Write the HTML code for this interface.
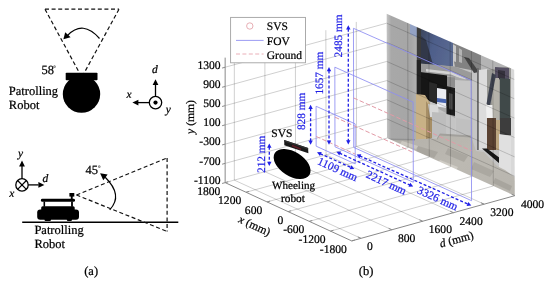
<!DOCTYPE html>
<html><head><meta charset="utf-8"><style>
html,body{margin:0;padding:0;background:#fff;width:550px;height:282px;overflow:hidden}
svg{display:block}
text{stroke:#000;stroke-width:.22px;text-rendering:geometricPrecision}
text.b{stroke:#1f1fe6}
text.g{stroke:none}
</style></head><body>
<svg width="550" height="282" viewBox="0 0 550 282">
<rect width="550" height="282" fill="#fff"/>
<g stroke="#111" stroke-width="1.2" fill="none" stroke-dasharray="4,2.6">
<line x1="45" y1="9.2" x2="119" y2="9.2" />
<line x1="45" y1="9.2" x2="81.8" y2="77.3" />
<line x1="119" y1="9.2" x2="81.8" y2="77.3" />
</g>
<path d="M99.5,38.5 Q83,19.5 67.5,35.5" stroke="#000" stroke-width="1.2" fill="none"/>
<polygon points="63.4,39.2 65.2,32.3 70.6,37.3" fill="#000"/>
<circle cx="81.5" cy="94.1" r="18.7" fill="#000"/>
<rect x="65.7" y="72.8" width="31.8" height="7.4" rx="0.8" fill="#000"/>
<text x="41.5" y="74.4" font-size="12.5" font-family="Liberation Serif, serif">58</text>
<text x="53.2" y="70.2" class="g" font-size="6.5" font-family="Liberation Serif, serif" fill="#8a8a8a" style="stroke:#8a8a8a;stroke-width:.6px">°</text>
<text x="8.8" y="94.8" font-size="12.5" font-family="Liberation Serif, serif">Patrolling</text>
<text x="8.8" y="109.2" font-size="12.5" font-family="Liberation Serif, serif">Robot</text>
<circle cx="155.5" cy="102.6" r="6.2" stroke="#000" stroke-width="1.3" fill="#fff"/>
<circle cx="155.5" cy="102.6" r="2.1" fill="#000"/>
<line x1="155.5" y1="96.4" x2="155.5" y2="84" stroke="#000" stroke-width="1.3"/>
<polygon points="155.5,79.2 152.6,85 158.4,85" fill="#000"/>
<line x1="149.3" y1="102.6" x2="138" y2="102.6" stroke="#000" stroke-width="1.3"/>
<polygon points="132.4,102.6 138.4,99.7 138.4,105.5" fill="#000"/>
<text x="152" y="73.2" font-size="11.5" font-family="Liberation Serif, serif" font-style="italic">d</text>
<text x="126.6" y="97.8" font-size="11.5" font-family="Liberation Serif, serif" font-style="italic">x</text>
<text x="165.8" y="113.4" font-size="11.5" font-family="Liberation Serif, serif" font-style="italic">y</text>
<circle cx="22" cy="184.9" r="6.2" stroke="#000" stroke-width="1.3" fill="#fff"/>
<line x1="17.6" y1="180.5" x2="26.4" y2="189.3" stroke="#000" stroke-width="1.2"/>
<line x1="17.6" y1="189.3" x2="26.4" y2="180.5" stroke="#000" stroke-width="1.2"/>
<line x1="22" y1="178.7" x2="22" y2="166" stroke="#000" stroke-width="1.3"/>
<polygon points="22,160.6 19.1,166.4 24.9,166.4" fill="#000"/>
<line x1="28.2" y1="184.9" x2="38.5" y2="184.9" stroke="#000" stroke-width="1.3"/>
<polygon points="44.4,184.9 38.4,182 38.4,187.8" fill="#000"/>
<text x="18" y="156.8" font-size="11.5" font-family="Liberation Serif, serif" font-style="italic">y</text>
<text x="42.6" y="181.8" font-size="11.5" font-family="Liberation Serif, serif" font-style="italic">d</text>
<text x="9.2" y="196.8" font-size="11.5" font-family="Liberation Serif, serif" font-style="italic">x</text>
<rect x="69.4" y="193" width="4.9" height="3.6" fill="#000"/>
<rect x="70.8" y="196" width="1.9" height="3.2" fill="#000"/>
<rect x="40.9" y="198.8" width="34.1" height="3" rx="1.4" fill="#000"/>
<rect x="43.5" y="201.5" width="1.6" height="5.2" fill="#000"/>
<rect x="71.1" y="201.5" width="1.8" height="5.2" fill="#000"/>
<rect x="41.2" y="206.3" width="33.5" height="5" rx="1.5" fill="#000"/>
<rect x="37.2" y="209.4" width="41.8" height="10.3" rx="3" fill="#000"/>
<rect x="44.5" y="218" width="6.5" height="3" rx="1.2" fill="#000"/>
<rect x="66.8" y="218" width="5.2" height="3" rx="1.2" fill="#000"/>
<line x1="22.2" y1="222.2" x2="178.3" y2="222.2" stroke="#000" stroke-width="1.5"/>
<g stroke="#111" stroke-width="1.2" fill="none" stroke-dasharray="4,2.6">
<line x1="76.5" y1="195" x2="167.1" y2="158" />
<line x1="76.5" y1="195" x2="167.1" y2="231.4" />
<line x1="167.1" y1="158" x2="167.1" y2="231.4" />
</g>
<path d="M109.7,209.8 Q123.5,195.5 105.2,177.3" stroke="#000" stroke-width="1.2" fill="none"/>
<polygon points="100.1,173.3 107.6,174.6 103.3,180.2" fill="#000"/>
<text x="85.6" y="174.2" font-size="12.5" font-family="Liberation Serif, serif">45</text>
<text x="97.9" y="169.9" class="g" font-size="6.5" font-family="Liberation Serif, serif" fill="#8a8a8a" style="stroke:#8a8a8a;stroke-width:.6px">°</text>
<text x="34.4" y="233.6" font-size="12.5" font-family="Liberation Serif, serif">Patrolling</text>
<text x="34.4" y="248" font-size="12.5" font-family="Liberation Serif, serif">Robot</text>
<text x="84.2" y="275.2" font-size="12.5" font-family="Liberation Serif, serif">(a)</text>
<line x1="234.34" y1="180.11" x2="234.33" y2="55.14" stroke="#000" stroke-opacity="0.19" stroke-width="1"/>
<line x1="264.96" y1="171.68" x2="264.88" y2="46.82" stroke="#000" stroke-opacity="0.19" stroke-width="1"/>
<line x1="295.53" y1="163.26" x2="295.39" y2="38.51" stroke="#000" stroke-opacity="0.19" stroke-width="1"/>
<line x1="326.06" y1="154.86" x2="325.85" y2="30.21" stroke="#000" stroke-opacity="0.19" stroke-width="1"/>
<line x1="356.54" y1="146.47" x2="356.28" y2="21.92" stroke="#000" stroke-opacity="0.19" stroke-width="1"/>
<line x1="225.15" y1="163.37" x2="386.93" y2="118.91" stroke="#000" stroke-opacity="0.19" stroke-width="1"/>
<line x1="225.15" y1="144.12" x2="386.88" y2="99.75" stroke="#000" stroke-opacity="0.19" stroke-width="1"/>
<line x1="225.15" y1="124.88" x2="386.83" y2="80.59" stroke="#000" stroke-opacity="0.19" stroke-width="1"/>
<line x1="225.15" y1="105.65" x2="386.78" y2="61.45" stroke="#000" stroke-opacity="0.19" stroke-width="1"/>
<line x1="225.15" y1="86.44" x2="386.73" y2="42.32" stroke="#000" stroke-opacity="0.19" stroke-width="1"/>
<line x1="225.15" y1="67.23" x2="386.68" y2="23.2" stroke="#000" stroke-opacity="0.19" stroke-width="1"/>
<line x1="225.15" y1="182.64" x2="386.98" y2="138.09" stroke="#000" stroke-opacity="0.19" stroke-width="1"/>
<line x1="246.06" y1="192.26" x2="408.09" y2="147.6" stroke="#000" stroke-opacity="0.19" stroke-width="1"/>
<line x1="267.04" y1="201.93" x2="429.29" y2="157.15" stroke="#000" stroke-opacity="0.19" stroke-width="1"/>
<line x1="288.1" y1="211.62" x2="450.56" y2="166.72" stroke="#000" stroke-opacity="0.19" stroke-width="1"/>
<line x1="309.23" y1="221.36" x2="471.9" y2="176.34" stroke="#000" stroke-opacity="0.19" stroke-width="1"/>
<line x1="330.44" y1="231.12" x2="493.32" y2="185.99" stroke="#000" stroke-opacity="0.19" stroke-width="1"/>
<line x1="234.34" y1="180.11" x2="360.99" y2="238.35" stroke="#000" stroke-opacity="0.19" stroke-width="1"/>
<line x1="264.96" y1="171.68" x2="391.85" y2="229.79" stroke="#000" stroke-opacity="0.19" stroke-width="1"/>
<line x1="295.53" y1="163.26" x2="422.66" y2="221.24" stroke="#000" stroke-opacity="0.19" stroke-width="1"/>
<line x1="326.06" y1="154.86" x2="453.42" y2="212.71" stroke="#000" stroke-opacity="0.19" stroke-width="1"/>
<line x1="356.54" y1="146.47" x2="484.15" y2="204.18" stroke="#000" stroke-opacity="0.19" stroke-width="1"/>
<defs><clipPath id="ph"><polygon points="386.6,13.7 514.2,69.8 514.8,195.7 387.0,138.1"/></clipPath>
<filter id="bl" x="-5%" y="-5%" width="110%" height="110%"><feGaussianBlur stdDeviation="0.55"/></filter>
<linearGradient id="win" x1="0" y1="0" x2="1" y2="0.4">
<stop offset="0" stop-color="#3a4458"/><stop offset="0.5" stop-color="#4e5e8a"/><stop offset="1" stop-color="#586890"/></linearGradient>
<linearGradient id="pil" x1="0" y1="0" x2="1" y2="0">
<stop offset="0" stop-color="#e6e6e6"/><stop offset="0.09" stop-color="#bebebe"/><stop offset="0.2" stop-color="#a8a8a8"/><stop offset="0.8" stop-color="#a6a6a6"/><stop offset="1" stop-color="#b2b2b2"/></linearGradient>
<linearGradient id="flr" x1="0" y1="0" x2="1" y2="1">
<stop offset="0" stop-color="#b3b0a9"/><stop offset="0.5" stop-color="#bcb9b2"/><stop offset="1" stop-color="#b8b5ae"/></linearGradient>
</defs>
<g clip-path="url(#ph)"><g filter="url(#bl)">
<polygon points="384.6,11.7 516.2,67.8 516.8,197.7 385.0,140.1" fill="#c4c4c4" />
<polygon points="450.0,39.5 481.0,53.1 481.0,72.0 455.0,67.0" fill="#828282" />
<polygon points="481.0,53.1 516.2,67.8 515.0,78.0 481.0,72.0" fill="#b4b4b4" />
<polygon points="452.5,44.0 456.0,46.0 456.0,62.0 452.5,61.0" fill="#c8c8c8" />
<polygon points="459.0,48.0 462.0,50.0 462.0,63.0 459.0,62.0" fill="#b4b4b4" />
<polygon points="464.0,57.0 469.0,58.0 479.0,72.0 474.0,73.0" fill="#454545" />
<polygon points="420.0,26.3 453.0,40.8 453.0,66.5 440.0,65.5 420.0,64.0" fill="url(#win)" />
<polygon points="421.0,36.0 426.0,40.0 433.0,64.5 421.0,64.0" fill="#30384a" />
<polygon points="420.0,63.5 455.0,66.5 472.0,73.0 472.0,81.0 455.0,77.0 420.0,73.0" fill="#9a9a9a" />
<polygon points="426.0,69.0 452.0,72.0 466.0,78.5 465.0,80.5 451.0,74.5 426.0,71.5" fill="#d4d4d4" />
<polygon points="437.0,76.0 456.0,77.0 472.0,81.0 472.0,120.0 455.0,118.0 437.0,108.0" fill="#a9a9a9" />
<polygon points="437.0,76.0 455.0,77.5 455.0,87.0 437.0,86.0" fill="#8e8e8e" />
<polygon points="420.0,72.0 447.0,75.5 447.0,106.0 437.0,104.0 420.0,97.0" fill="#121212" />
<polygon points="429.0,82.0 437.0,84.0 437.0,104.0 429.0,101.0" fill="#2c2c2c" />
<polygon points="437.0,88.0 446.5,89.5 446.5,108.0 437.0,106.5" fill="#eaecf2" />
<polygon points="437.0,98.0 446.5,99.3 446.5,103.3 437.0,102.0" fill="#4a66b0" />
<polygon points="446.5,86.0 455.0,88.0 455.0,116.0 446.5,114.0" fill="#1e1e1e" />
<polygon points="449.0,93.0 452.5,94.0 452.5,110.0 449.0,109.0" fill="#4a4a4a" />
<polygon points="455.0,80.0 472.0,81.0 477.0,73.0 487.0,74.0 487.0,150.0 471.0,137.0 455.0,134.0" fill="#c6c6c6" />
<polygon points="456.0,118.0 471.0,120.0 471.0,136.0 456.0,134.0" fill="#c0c0c0" />
<polygon points="478.6,70.0 487.0,69.0 487.0,150.0 478.6,150.0" fill="#dcdcdc" />
<polygon points="477.0,68.0 478.8,68.0 478.8,150.0 477.0,150.0" fill="#6a6a6a" />
<polygon points="487.0,70.0 512.0,66.0 512.0,150.0 487.0,150.0" fill="#9a9a96" />
<polygon points="495.0,67.0 509.0,68.0 509.0,80.0 495.0,79.0" fill="#545062" />
<polygon points="498.0,70.0 505.0,71.0 505.0,80.0 498.0,79.0" fill="#34303c" />
<polygon points="500.0,78.0 510.0,79.0 510.0,132.0 500.0,131.0" fill="#3f4a4a" />
<polygon points="492.0,78.0 499.0,78.0 499.0,120.0 492.0,120.0" fill="#b4b2aa" />
<polygon points="492.0,73.0 496.0,75.0 490.0,106.0 486.5,104.0" fill="#3e4350" />
<polygon points="486.0,105.0 492.5,105.0 493.0,118.0 486.5,118.0" fill="#f0f0f0" />
<polygon points="487.0,118.0 496.0,118.0 496.0,150.0 487.0,150.0" fill="#5a4232" />
<polygon points="496.0,120.0 500.0,120.0 500.0,150.0 496.0,150.0" fill="#bca680" />
<polygon points="500.0,118.0 512.0,118.0 512.0,135.0 500.0,135.0" fill="#3e3e3e" />
<polygon points="482.0,148.5 487.0,148.5 500.5,158.5 499.5,163.5" fill="#141414" />
<polygon points="499.0,134.0 512.0,136.0 512.0,182.0 499.0,176.0" fill="#e0e0e0" />
<polygon points="511.0,66.0 516.0,66.0 516.0,190.0 511.0,188.0" fill="#d8d8d8" />
<polygon points="384.6,11.7 417.3,25.1 417.3,141.0 384.6,138.5" fill="url(#pil)" />
<polygon points="410.0,22.9 417.3,26.1 417.3,38.0 410.0,34.0" fill="#93a2c4" />
<polygon points="416.8,24.9 421.0,26.8 421.0,96.0 416.8,95.0" fill="#3a3a3a" />
<polygon points="416.8,60.0 421.0,60.0 421.0,96.0 416.8,95.0" fill="#222222" />
<polygon points="416.0,94.0 425.0,95.0 430.0,103.0 432.0,112.0 432.0,138.0 416.0,140.0" fill="#c8b186" />
<polygon points="426.0,101.0 432.0,110.0 432.0,138.0 426.0,139.0" fill="#a68e66" />
<polygon points="428.0,104.0 438.0,105.5 439.0,118.0 430.0,117.0" fill="#d8d8d8" />
<polygon points="432.0,112.0 446.0,113.0 446.0,134.0 432.0,138.0" fill="#bdbdbd" />
<polygon points="385.0,139.0 415.0,139.5 437.0,138.5 440.0,134.0 471.0,136.0 476.0,151.0 484.0,152.0 497.0,166.0 505.0,170.0 516.0,178.0 516.0,200.0 385.0,200.0" fill="url(#flr)" />
<polygon points="387.0,138.5 415.0,139.0 415.0,140.5 387.0,140.0" fill="#929292" />
<polygon points="437.0,138.0 440.0,133.5 471.0,135.5 471.0,137.5 440.0,135.5 437.0,140.0" fill="#a2a09c" />
<polygon points="418.0,146.0 438.0,152.0 434.0,158.0 416.0,152.0" fill="#a9a69f" />
<polygon points="448.0,148.0 468.0,156.0 464.0,162.0 445.0,154.0" fill="#aaa7a0" />
<polygon points="474.0,162.0 494.0,171.0 490.0,177.0 471.0,169.0" fill="#aba8a1" />
<polygon points="440.0,160.0 458.0,167.0 455.0,172.0 437.0,165.0" fill="#cfccc5" />
<polygon points="495.0,178.0 512.0,186.0 510.0,191.0 493.0,183.0" fill="#a8a59e" />
<polygon points="402.0,141.0 418.0,146.0 416.0,149.0 400.0,144.0" fill="#cbc8c1" />
</g></g>
<line x1="408.09" y1="147.6" x2="407.73" y2="22.92" stroke="#000" stroke-opacity="0.22" stroke-width="0.8"/>
<line x1="429.29" y1="157.15" x2="428.88" y2="32.22" stroke="#000" stroke-opacity="0.22" stroke-width="0.8"/>
<line x1="450.56" y1="166.72" x2="450.1" y2="41.56" stroke="#000" stroke-opacity="0.22" stroke-width="0.8"/>
<line x1="471.9" y1="176.34" x2="471.41" y2="50.93" stroke="#000" stroke-opacity="0.22" stroke-width="0.8"/>
<line x1="493.32" y1="185.99" x2="492.78" y2="60.33" stroke="#000" stroke-opacity="0.22" stroke-width="0.8"/>
<line x1="386.93" y1="118.91" x2="514.73" y2="176.27" stroke="#000" stroke-opacity="0.22" stroke-width="0.8"/>
<line x1="386.88" y1="99.75" x2="514.64" y2="156.88" stroke="#000" stroke-opacity="0.22" stroke-width="0.8"/>
<line x1="386.83" y1="80.59" x2="514.55" y2="137.5" stroke="#000" stroke-opacity="0.22" stroke-width="0.8"/>
<line x1="386.78" y1="61.45" x2="514.46" y2="118.13" stroke="#000" stroke-opacity="0.22" stroke-width="0.8"/>
<line x1="386.73" y1="42.32" x2="514.37" y2="98.78" stroke="#000" stroke-opacity="0.22" stroke-width="0.8"/>
<line x1="386.68" y1="23.2" x2="514.29" y2="79.43" stroke="#000" stroke-opacity="0.22" stroke-width="0.8"/>
<line x1="225.15" y1="182.64" x2="225.15" y2="57.64" stroke="#8a8a8a" stroke-width="1"/>
<line x1="225.15" y1="182.64" x2="351.73" y2="240.92" stroke="#8a8a8a" stroke-width="1"/>
<line x1="351.73" y1="240.92" x2="514.82" y2="195.67" stroke="#8a8a8a" stroke-width="1"/>
<line x1="225.15" y1="182.64" x2="222.09" y2="183.48" stroke="#8a8a8a" stroke-width="1"/>
<line x1="225.15" y1="163.37" x2="222.09" y2="164.22" stroke="#8a8a8a" stroke-width="1"/>
<line x1="225.15" y1="144.12" x2="222.09" y2="144.96" stroke="#8a8a8a" stroke-width="1"/>
<line x1="225.15" y1="124.88" x2="222.09" y2="125.72" stroke="#8a8a8a" stroke-width="1"/>
<line x1="225.15" y1="105.65" x2="222.09" y2="106.49" stroke="#8a8a8a" stroke-width="1"/>
<line x1="225.15" y1="86.44" x2="222.09" y2="87.27" stroke="#8a8a8a" stroke-width="1"/>
<line x1="225.15" y1="67.23" x2="222.09" y2="68.07" stroke="#8a8a8a" stroke-width="1"/>
<line x1="225.15" y1="182.64" x2="228.22" y2="181.79" stroke="#8a8a8a" stroke-width="1"/>
<line x1="246.06" y1="192.26" x2="249.13" y2="191.42" stroke="#8a8a8a" stroke-width="1"/>
<line x1="267.04" y1="201.93" x2="270.11" y2="201.08" stroke="#8a8a8a" stroke-width="1"/>
<line x1="288.1" y1="211.62" x2="291.17" y2="210.77" stroke="#8a8a8a" stroke-width="1"/>
<line x1="309.23" y1="221.36" x2="312.31" y2="220.5" stroke="#8a8a8a" stroke-width="1"/>
<line x1="330.44" y1="231.12" x2="333.52" y2="230.27" stroke="#8a8a8a" stroke-width="1"/>
<line x1="351.73" y1="240.92" x2="354.81" y2="240.07" stroke="#8a8a8a" stroke-width="1"/>
<line x1="360.99" y1="238.35" x2="357.79" y2="236.88" stroke="#8a8a8a" stroke-width="1"/>
<line x1="391.85" y1="229.79" x2="388.64" y2="228.32" stroke="#8a8a8a" stroke-width="1"/>
<line x1="422.66" y1="221.24" x2="419.45" y2="219.78" stroke="#8a8a8a" stroke-width="1"/>
<line x1="453.42" y1="212.71" x2="450.21" y2="211.25" stroke="#8a8a8a" stroke-width="1"/>
<line x1="484.15" y1="204.18" x2="480.92" y2="202.72" stroke="#8a8a8a" stroke-width="1"/>
<line x1="514.82" y1="195.67" x2="511.59" y2="194.22" stroke="#8a8a8a" stroke-width="1"/>
<text x="220.6" y="68.53" text-anchor="end" font-size="11.6" font-family="Liberation Serif, serif">1300</text>
<text x="220.6" y="87.74" text-anchor="end" font-size="11.6" font-family="Liberation Serif, serif">900</text>
<text x="220.6" y="106.95" text-anchor="end" font-size="11.6" font-family="Liberation Serif, serif">500</text>
<text x="220.6" y="126.18" text-anchor="end" font-size="11.6" font-family="Liberation Serif, serif">100</text>
<text x="220.6" y="145.42" text-anchor="end" font-size="11.6" font-family="Liberation Serif, serif">-300</text>
<text x="220.6" y="164.67" text-anchor="end" font-size="11.6" font-family="Liberation Serif, serif">-700</text>
<text x="220.6" y="183.94" text-anchor="end" font-size="11.6" font-family="Liberation Serif, serif">-1100</text>
<text x="220.35" y="194.64" text-anchor="end" font-size="11.6" font-family="Liberation Serif, serif">1800</text>
<text x="241.26" y="204.26" text-anchor="end" font-size="11.6" font-family="Liberation Serif, serif">1200</text>
<text x="262.24" y="213.93" text-anchor="end" font-size="11.6" font-family="Liberation Serif, serif">600</text>
<text x="283.3" y="223.62" text-anchor="end" font-size="11.6" font-family="Liberation Serif, serif">0</text>
<text x="304.43" y="233.36" text-anchor="end" font-size="11.6" font-family="Liberation Serif, serif">-600</text>
<text x="325.64" y="243.12" text-anchor="end" font-size="11.6" font-family="Liberation Serif, serif">-1200</text>
<text x="346.93" y="252.92" text-anchor="end" font-size="11.6" font-family="Liberation Serif, serif">-1800</text>
<text x="367.09" y="250.35" font-size="11.6" font-family="Liberation Serif, serif">0</text>
<text x="397.95" y="241.79" font-size="11.6" font-family="Liberation Serif, serif">800</text>
<text x="428.76" y="233.24" font-size="11.6" font-family="Liberation Serif, serif">1600</text>
<text x="459.52" y="224.71" font-size="11.6" font-family="Liberation Serif, serif">2400</text>
<text x="490.25" y="216.18" font-size="11.6" font-family="Liberation Serif, serif">3200</text>
<text x="520.92" y="207.67" font-size="11.6" font-family="Liberation Serif, serif">4000</text>
<text transform="translate(193.6,117) rotate(-90)" text-anchor="middle" font-size="11.6" font-family="Liberation Serif, serif"><tspan font-style="italic">y</tspan> (mm)</text>
<text transform="translate(253,229) rotate(24.6)" text-anchor="middle" font-size="11.6" font-family="Liberation Serif, serif"><tspan font-style="italic">x</tspan> (mm)</text>
<text transform="translate(457.5,243) rotate(-15)" text-anchor="middle" font-size="11.6" font-family="Liberation Serif, serif"><tspan font-style="italic">d</tspan> (mm)</text>
<polygon points="316.09,106.26 355.15,123.85 355.23,163.91 316.15,146.18" stroke="#8c8cf2" stroke-width="0.85" fill="none"/>
<line x1="316.14" y1="136.44" x2="355.21" y2="154.13" stroke="#e29aa6" stroke-width="1" stroke-dasharray="4.5,2.2" fill="none"/>
<polygon points="334.83,67.17 413.09,102.11 413.34,182.29 334.97,146.78" stroke="#8c8cf2" stroke-width="0.85" fill="none"/>
<line x1="334.92" y1="117.14" x2="413.25" y2="152.44" stroke="#e29aa6" stroke-width="1" stroke-dasharray="4.5,2.2" fill="none"/>
<polygon points="353.46,28.31 471.09,80.34 471.57,200.7 353.7,147.37" stroke="#8c8cf2" stroke-width="0.85" fill="none"/>
<line x1="353.6" y1="97.94" x2="471.37" y2="150.74" stroke="#e29aa6" stroke-width="1" stroke-dasharray="4.5,2.2" fill="none"/>
<ellipse cx="292.1" cy="164" rx="20.5" ry="12.1" transform="rotate(32.5 292.1 164)" fill="#000"/>
<polygon points="284.2,140.1 308.1,148 308.4,153.2 284.3,145.2" fill="#1a1a1a"/>
<polygon points="284.2,140.1 308.1,148 308.1,149.4 284.2,141.5" fill="#303030"/>
<line x1="292" y1="145.6" x2="301" y2="149.2" stroke="#5e1c26" stroke-width="1.6"/>
<text x="271.3" y="137.1" font-size="11.5" font-family="Liberation Serif, serif">SVS</text>
<text x="272" y="189.4" font-size="11.1" font-family="Liberation Serif, serif">Wheeling</text>
<text x="281" y="201.5" font-size="11.3" font-family="Liberation Serif, serif">robot</text>
<line x1="269.3" y1="146.86" x2="269.3" y2="162.64" stroke="#1f1fe6" stroke-width="1.3" stroke-dasharray="3,2"/>
<polygon points="269.3,166 267.1,161.8 271.5,161.8" fill="#1f1fe6"/>
<polygon points="269.3,143.5 271.5,147.7 267.1,147.7" fill="#1f1fe6"/>
<line x1="310.6" y1="108.16" x2="310.6" y2="141.44" stroke="#1f1fe6" stroke-width="1.3" stroke-dasharray="3,2"/>
<polygon points="310.6,144.8 308.4,140.6 312.8,140.6" fill="#1f1fe6"/>
<polygon points="310.6,104.8 312.8,109 308.4,109" fill="#1f1fe6"/>
<line x1="329" y1="70.46" x2="329" y2="141.44" stroke="#1f1fe6" stroke-width="1.3" stroke-dasharray="3,2"/>
<polygon points="329,144.8 326.8,140.6 331.2,140.6" fill="#1f1fe6"/>
<polygon points="329,67.1 331.2,71.3 326.8,71.3" fill="#1f1fe6"/>
<line x1="348.3" y1="28.66" x2="348.3" y2="141.14" stroke="#1f1fe6" stroke-width="1.3" stroke-dasharray="3,2"/>
<polygon points="348.3,144.5 346.1,140.3 350.5,140.3" fill="#1f1fe6"/>
<polygon points="348.3,25.3 350.5,29.5 346.1,29.5" fill="#1f1fe6"/>
<line x1="320.07" y1="153.67" x2="351.23" y2="167.53" stroke="#1f1fe6" stroke-width="1.3" stroke-dasharray="3,2"/>
<polygon points="354.3,168.9 349.57,169.2 351.36,165.18" fill="#1f1fe6"/>
<polygon points="317,152.3 321.73,152 319.94,156.02" fill="#1f1fe6"/>
<line x1="339.46" y1="153.09" x2="410.14" y2="185.21" stroke="#1f1fe6" stroke-width="1.3" stroke-dasharray="3,2"/>
<polygon points="413.2,186.6 408.47,186.87 410.29,182.86" fill="#1f1fe6"/>
<polygon points="336.4,151.7 341.13,151.43 339.31,155.44" fill="#1f1fe6"/>
<line x1="359.67" y1="155.87" x2="468.23" y2="204.23" stroke="#1f1fe6" stroke-width="1.3" stroke-dasharray="3,2"/>
<polygon points="471.3,205.6 466.57,205.9 468.36,201.88" fill="#1f1fe6"/>
<polygon points="356.6,154.5 361.33,154.2 359.54,158.22" fill="#1f1fe6"/>
<text transform="translate(260.7,154.3) rotate(-90)" text-anchor="middle" dy="3.8" class="b" font-size="11.3" fill="#1f1fe6" font-family="Liberation Serif, serif">212 mm</text>
<text transform="translate(301.4,111.4) rotate(-90)" text-anchor="middle" dy="3.8" class="b" font-size="11.3" fill="#1f1fe6" font-family="Liberation Serif, serif">828 mm</text>
<text transform="translate(319.6,73.1) rotate(-90)" text-anchor="middle" dy="3.8" class="b" font-size="11.3" fill="#1f1fe6" font-family="Liberation Serif, serif">1657 mm</text>
<text transform="translate(338.5,35.9) rotate(-90)" text-anchor="middle" dy="3.8" class="b" font-size="11.3" fill="#1f1fe6" font-family="Liberation Serif, serif">2485 mm</text>
<text transform="translate(337.8,169.2) rotate(24.6)" text-anchor="middle" dy="3.8" class="b" font-size="11.3" fill="#1f1fe6" font-family="Liberation Serif, serif">1109 mm</text>
<text transform="translate(386.4,182.6) rotate(24.6)" text-anchor="middle" dy="3.8" class="b" font-size="11.3" fill="#1f1fe6" font-family="Liberation Serif, serif">2217 mm</text>
<text transform="translate(437.7,198.3) rotate(24.6)" text-anchor="middle" dy="3.8" class="b" font-size="11.3" fill="#1f1fe6" font-family="Liberation Serif, serif">3326 mm</text>
<rect x="230.6" y="17.4" width="74.9" height="45.4" fill="#fff" stroke="#a2a2a2" stroke-width="0.9"/>
<circle cx="249.8" cy="26" r="3.2" fill="none" stroke="#e3a0a8" stroke-width="0.85"/>
<line x1="236" y1="40.4" x2="263.6" y2="40.4" stroke="#9090f0" stroke-width="0.9"/>
<line x1="236" y1="54" x2="263.6" y2="54" stroke="#e8a6b0" stroke-width="0.9" stroke-dasharray="4,2.4"/>
<text x="266.8" y="30.2" font-size="11.5" font-family="Liberation Serif, serif">SVS</text>
<text x="266.8" y="44.6" font-size="11.5" font-family="Liberation Serif, serif">FOV</text>
<text x="266.8" y="58.8" font-size="11.5" font-family="Liberation Serif, serif">Ground</text>
<text x="358.8" y="274.6" font-size="12.5" font-family="Liberation Serif, serif">(b)</text>
</svg>
</body></html>
